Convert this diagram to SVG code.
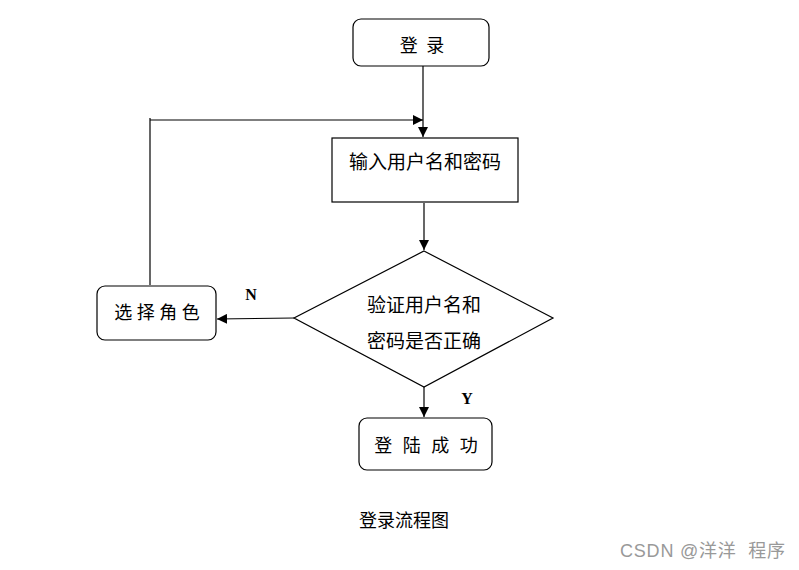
<svg xmlns="http://www.w3.org/2000/svg" width="799" height="570" viewBox="0 0 799 570">
<style>
.box{fill:#fff;stroke:#000;stroke-width:1.2}
.ln{fill:none;stroke:#000;stroke-width:1.2}
.t{font-family:"Liberation Serif","Noto Sans CJK SC",serif;font-size:18px;fill:#000;text-anchor:middle}
.lbl{font-family:"Liberation Serif",serif;font-size:16px;font-weight:bold;fill:#000;text-anchor:middle}
.wm{font-family:"Liberation Sans","Noto Sans CJK SC",sans-serif;font-size:18px;fill:#999}
</style>
<defs>
<marker id="ah" markerWidth="10" markerHeight="10" refX="10" refY="5" orient="auto" markerUnits="userSpaceOnUse">
<path d="M0,0 L10,5 L0,10 Z" fill="#000"/>
</marker>
</defs>
<rect width="799" height="570" fill="#fff"/>
<g id="connectors">
<line class="ln" x1="423" y1="66" x2="423" y2="137" marker-end="url(#ah)"/>
<polyline class="ln" points="150,285 150,118"/>
<line class="ln" x1="150" y1="120" x2="423" y2="120" marker-end="url(#ah)"/>
<line class="ln" x1="424" y1="203" x2="424" y2="250" marker-end="url(#ah)"/>
<line class="ln" x1="294" y1="318" x2="217" y2="319" marker-end="url(#ah)"/>
<line class="ln" x1="424" y1="387" x2="424" y2="417" marker-end="url(#ah)"/>
<text class="lbl" x="251" y="300">N</text>
<text class="lbl" x="467" y="404">Y</text>
</g>
<g id="login">
<rect class="box" x="353" y="19" width="136" height="47" rx="8"/>
<text class="t" x="422" y="52" style="word-spacing:4px">登 录</text>
</g>
<g id="input">
<rect class="box" x="332" y="138" width="186" height="64"/>
<text class="t" x="425" y="169" style="font-size:19px">输入用户名和密码</text>
</g>
<g id="verify">
<polygon class="box" points="424,251 553,318 424,387 294,318"/>
<text class="t" x="424" y="312" style="font-size:19px">验证用户名和</text>
<text class="t" x="424" y="348" style="font-size:19px">密码是否正确</text>
</g>
<g id="role">
<rect class="box" x="97" y="286" width="119" height="54" rx="8"/>
<text class="t" x="157" y="319">选 择 角 色</text>
</g>
<g id="success">
<rect class="box" x="359" y="418" width="133" height="52" rx="8"/>
<text class="t" x="426" y="452" style="word-spacing:6px">登 陆 成 功</text>
</g>
<text class="t" x="404" y="527">登录流程图</text>
<text class="wm" x="620" y="557" xml:space="preserve" textLength="165" lengthAdjust="spacing">CSDN @洋洋  程序</text>
</svg>
